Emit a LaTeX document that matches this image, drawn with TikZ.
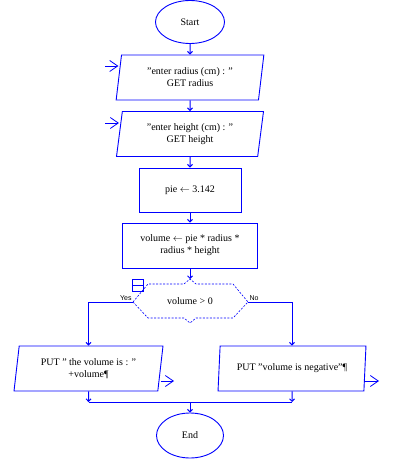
\documentclass[tikz,border=0pt]{standalone}
\usepackage{fontspec}
\setmainfont{Liberation Serif}
\newfontfamily\labelfont{Liberation Sans}
\usepackage{xcolor}
\usetikzlibrary{shapes.geometric}
\usetikzlibrary{arrows.meta}
\definecolor{flowblue}{RGB}{0,0,255}
\tikzset{
	terminal/.style={
			ellipse, draw=flowblue, line width=0.9pt,
			minimum width=69pt, minimum height=43pt, inner sep=0pt
		},
	iobox/.style={
			trapezium, trapezium left angle=80, trapezium right angle=100,
			trapezium stretches=true, draw=flowblue, line width=0.9pt,
			minimum width=148pt, minimum height=45pt, inner sep=0pt, align=center
		},
	procbox/.style={
			rectangle, draw=flowblue, line width=0.9pt, inner sep=0pt, align=center
		},
	flow/.style={draw=flowblue, line width=1pt, -{Straight Barb[length=2.5pt,width=5pt]}},
	entry/.style={draw=flowblue, line width=0.8pt, -{Straight Barb[length=8pt,width=11pt]}},
	branch/.style={font=\labelfont\fontsize{7}{8}\selectfont, inner sep=1pt}
}

\begin{document}
\begin{tikzpicture}[x=1pt, y=-1pt, font=\fontsize{10}{12}\selectfont]
		\useasboundingbox (0,0) rectangle (405,473);

		% Draw the nodes
		\node[terminal] (start) at (190,22) {Start};
		\node[iobox] (getr) at (190,77.5) {"enter radius (cm) : "\\GET radius};
		\node[iobox] (geth) at (190,134) {"enter height (cm) : "\\GET height};
		\node[procbox, minimum width=102pt, minimum height=44pt] (pie) at (190,190) {pie $\leftarrow$ 3.142};
		\node[procbox, minimum width=135pt, minimum height=45pt] (vol) at (190,245.5) {volume $\leftarrow$ pie * radius *\\radius * height};
		\node[inner sep=0pt] (dec) at (190,301) {volume {\fontspec{Liberation Serif}>} 0};
		\node[iobox, minimum width=149pt] (yesout) at (88.5,368.5) {PUT " the volume is : "\\+volume¶};
		\node[iobox] (noout) at (292,368.5) {PUT "volume is negative"¶};
		\node[terminal, minimum width=67pt, minimum height=45pt] (end) at (190,435.5) {End};

		% Draw the decision outline
		\coordinate (dectop) at (190,279);
		\coordinate (decl) at (133,302);
		\coordinate (decr) at (248,302);
		\draw[flowblue, line width=0.6pt, dash pattern=on 2pt off 1.5pt]
			(decl) -- (148,284) -- (184,284) -- (dectop) -- (196,284) -- (233,284) -- (decr)
			-- (233,318) -- (196,318) -- (190,323) -- (184,318) -- (148,318) -- cycle;
		\draw[flowblue, line width=0.9pt] (132,279) rectangle (143,291) (132,285) -- (143,285);

		% Draw the connectors
		\draw[flow] (start) -- (getr);
		\draw[flow] (getr) -- (geth);
		\draw[flow] (geth) -- (pie);
		\draw[flow] (pie) -- (vol);
		\draw[flow] (vol) -- (dectop);
		\draw[flow] (decl) -| (yesout.north) node[pos=0, branch, above left] {Yes};
		\draw[flow] (decr) -| (noout.north) node[pos=0, branch, above right] {No};

		% Draw the merge
		\coordinate (mergel) at (88.5,402);
		\coordinate (merger) at (292,402);
		\coordinate (merge) at (190,402);
		\draw[flow] (yesout.south) -- (mergel);
		\draw[flow] (noout.south) -- (merger);
		\draw[flowblue, line width=1pt] (mergel) -- (merger);
		\draw[flow] (merge) -- (end);

		% Draw the in and out arrows
		\coordinate (in1) at (105,66);
		\coordinate (in2) at (105,123);
		\coordinate (out1) at (174,381);
		\coordinate (out2) at (379,381);
		\draw[entry] (in1) -- (in1 -| getr.west);
		\draw[entry] (in2) -- (in2 -| geth.west);
		\draw[entry] (out1 -| yesout.east) -- (out1);
		\draw[entry] (out2 -| noout.east) -- (out2);
	\end{tikzpicture}
\end{document}
